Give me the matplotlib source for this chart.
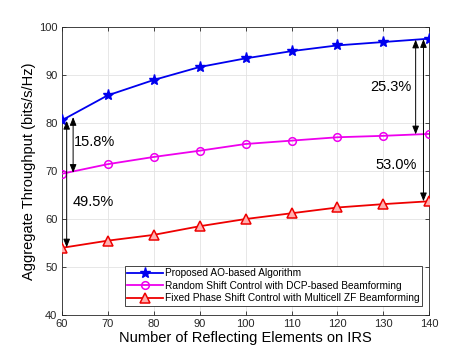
import matplotlib
matplotlib.use("Agg")
import matplotlib.pyplot as plt

plt.rcParams['font.family'] = ['Liberation Sans', 'DejaVu Sans']

# number of reflecting elements
n_elem = [60, 70, 80, 90, 100, 110, 120, 130, 140]

# throughput (bits/s/Hz)
ao_based = [80.5, 85.7, 88.9, 91.6, 93.4, 94.9, 96.1, 96.8, 97.5]
random_dcp = [69.4, 71.4, 72.9, 74.2, 75.6, 76.3, 77.0, 77.3, 77.7]
fixed_zf = [54.0, 55.5, 56.7, 58.5, 60.0, 61.2, 62.4, 63.1, 63.7]

labels = ["Proposed AO-based Algorithm",
          "Random Shift Control with DCP-based Beamforming",
          "Fixed Phase Shift Control with Multicell ZF Beamforming"]

# gain annotations: (x, y_top, y_bottom, text, text_x, text_y)
gains = [
    (61.1, 80.4, 54.1, "49.5%", 62.4, 63.5),
    (62.5, 81.2, 69.6, "15.8%", 62.6, 76.0),
    (137.0, 97.3, 77.6, "25.3%", 127.1, 87.4),
    (138.7, 97.4, 63.7, "53.0%", 128.2, 71.2),
]

fig = plt.figure(figsize=(4.74, 3.55), dpi=100)
ax = fig.add_axes([0.130, 0.112, 0.776, 0.813])

ax.plot(n_elem, ao_based, color='#0000ee', lw=1.3, marker='*', ms=8,
        mfc='#0000ee', mec='#0000ee', label=labels[0], zorder=3)
ax.plot(n_elem, random_dcp, color='#ee00ee', lw=1.3, marker='o', ms=5.5,
        mfc='none', mec='#ee00ee', mew=1.1, label=labels[1], zorder=3)
ax.plot(n_elem, fixed_zf, color='#ee0000', lw=1.3, marker='^', ms=6.5,
        mfc='#ffb0b0', mec='#ee0000', mew=1.1, label=labels[2], zorder=3)

for x, y1, y2, txt, tx, ty in gains:
    ax.annotate("", xy=(x, y2), xytext=(x, y1),
                arrowprops=dict(arrowstyle='<|-|>,head_length=0.5,head_width=0.2',
                                color='black', lw=0.7, shrinkA=0, shrinkB=0),
                zorder=4)
    ax.text(tx, ty, txt, fontsize=10.5, va='center', ha='left')

ax.set_xlim(60, 140)
ax.set_ylim(40, 100)
ax.set_xticks(n_elem)
ax.set_yticks([40, 50, 60, 70, 80, 90, 100])
ax.tick_params(direction='in', top=True, right=True, labelsize=8,
               length=3, colors='#262626', width=0.6, pad=3)
ax.grid(True, color='#e3e3e3', lw=0.6)
ax.set_axisbelow(True)
for s in ax.spines.values():
    s.set_color('#262626')
    s.set_linewidth(0.6)

ax.set_xlabel("Number of Reflecting Elements on IRS", fontsize=10.5, labelpad=1)
ax.set_ylabel("Aggregate Throughput (bits/s/Hz)", fontsize=10.5, labelpad=2)

leg = ax.legend(loc='lower right', bbox_to_anchor=(0.980, 0.032), fontsize=7.3,
                fancybox=False, framealpha=1, edgecolor='#262626',
                handlelength=3.5, borderpad=0.25, labelspacing=0.25,
                handletextpad=0.2, borderaxespad=0)
leg.get_frame().set_linewidth(0.6)

fig.savefig("out.png", dpi=100)
